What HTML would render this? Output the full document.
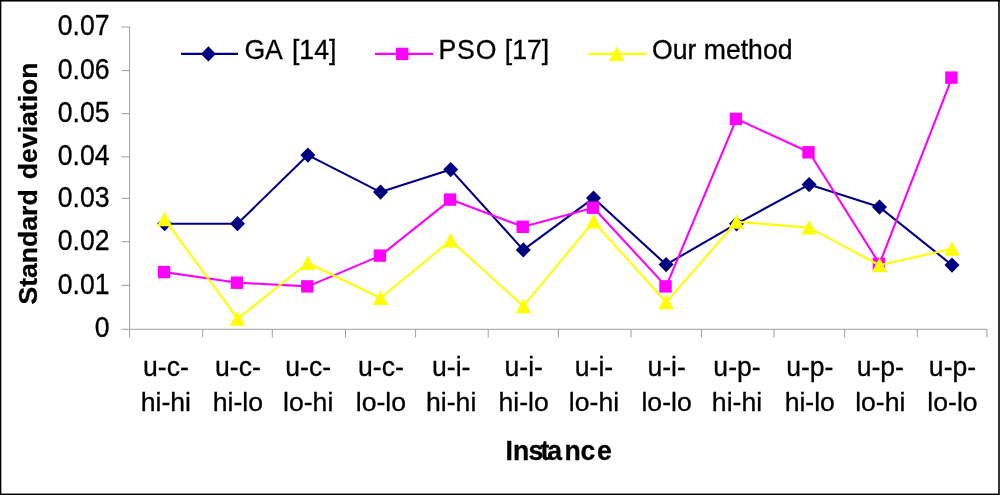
<!DOCTYPE html>
<html><head><meta charset="utf-8"><title>Standard deviation chart</title>
<style>
html,body{margin:0;padding:0;background:#fff;}
body{width:1000px;height:495px;overflow:hidden;}
svg{display:block;}
text{font-family:"Liberation Sans",sans-serif;fill:#000;stroke:#000;stroke-width:0.3px;}
.b{font-weight:bold;}
</style></head><body>
<svg width="1000" height="495" viewBox="0 0 1000 495">
<rect x="0" y="0" width="1000" height="495" fill="#fff"/>

<rect x="998" y="0" width="2" height="495" fill="#333"/>
<rect x="0" y="0" width="1000" height="1.55" fill="#000"/>
<rect x="0" y="0" width="1.35" height="495" fill="#000"/>
<rect x="0" y="493.55" width="998.6" height="1.45" fill="#000"/>
<g stroke="#989898" stroke-width="0.95" fill="none">
<line x1="129.6" y1="27.0" x2="129.6" y2="337.5"/>
<line x1="121.5" y1="329.3" x2="987.0" y2="329.3"/>
<line x1="121.5" y1="27.0" x2="129.6" y2="27.0"/>
<line x1="121.5" y1="70.6" x2="129.6" y2="70.6"/>
<line x1="121.5" y1="113.6" x2="129.6" y2="113.6"/>
<line x1="121.5" y1="156.9" x2="129.6" y2="156.9"/>
<line x1="121.5" y1="198.4" x2="129.6" y2="198.4"/>
<line x1="121.5" y1="241.7" x2="129.6" y2="241.7"/>
<line x1="121.5" y1="285.4" x2="129.6" y2="285.4"/>
<line x1="202.7" y1="329.3" x2="202.7" y2="337.5"/>
<line x1="272.3" y1="329.3" x2="272.3" y2="337.5"/>
<line x1="345.5" y1="329.3" x2="345.5" y2="337.5"/>
<line x1="415.6" y1="329.3" x2="415.6" y2="337.5"/>
<line x1="488.2" y1="329.3" x2="488.2" y2="337.5"/>
<line x1="558.4" y1="329.3" x2="558.4" y2="337.5"/>
<line x1="631.0" y1="329.3" x2="631.0" y2="337.5"/>
<line x1="701.4" y1="329.3" x2="701.4" y2="337.5"/>
<line x1="774.0" y1="329.3" x2="774.0" y2="337.5"/>
<line x1="844.7" y1="329.3" x2="844.7" y2="337.5"/>
<line x1="917.3" y1="329.3" x2="917.3" y2="337.5"/>
<line x1="987.0" y1="329.3" x2="987.0" y2="337.5"/>
</g>
<text x="109.6" y="35.2" font-size="26.6" text-anchor="end" transform="matrix(1 0 0 1.075 0 -2.640)">0.07</text>
<text x="109.6" y="78.8" font-size="26.6" text-anchor="end" transform="matrix(1 0 0 1.075 0 -5.910)">0.06</text>
<text x="109.6" y="121.8" font-size="26.6" text-anchor="end" transform="matrix(1 0 0 1.075 0 -9.135)">0.05</text>
<text x="109.6" y="165.1" font-size="26.6" text-anchor="end" transform="matrix(1 0 0 1.075 0 -12.382)">0.04</text>
<text x="109.6" y="206.6" font-size="26.6" text-anchor="end" transform="matrix(1 0 0 1.075 0 -15.495)">0.03</text>
<text x="109.6" y="249.9" font-size="26.6" text-anchor="end" transform="matrix(1 0 0 1.075 0 -18.742)">0.02</text>
<text x="109.6" y="293.6" font-size="26.6" text-anchor="end" transform="matrix(1 0 0 1.075 0 -22.020)">0.01</text>
<text x="109.6" y="337.2" font-size="26.6" text-anchor="end" transform="matrix(1 0 0 1.075 0 -25.290)">0</text>
<text x="165.9" y="376.2" font-size="26.6" text-anchor="middle" transform="matrix(1 0 0 1.03 0 -11.286)">u-c-</text>
<text x="165.9" y="411.3" font-size="26.6" text-anchor="middle">hi-hi</text>
<text x="237.9" y="376.2" font-size="26.6" text-anchor="middle" transform="matrix(1 0 0 1.03 0 -11.286)">u-c-</text>
<text x="237.9" y="411.3" font-size="26.6" text-anchor="middle">hi-lo</text>
<text x="308.2" y="376.2" font-size="26.6" text-anchor="middle" transform="matrix(1 0 0 1.03 0 -11.286)">u-c-</text>
<text x="308.2" y="411.3" font-size="26.6" text-anchor="middle">lo-hi</text>
<text x="380.9" y="376.2" font-size="26.6" text-anchor="middle" transform="matrix(1 0 0 1.03 0 -11.286)">u-c-</text>
<text x="380.9" y="411.3" font-size="26.6" text-anchor="middle">lo-lo</text>
<text x="451.2" y="376.2" font-size="26.6" text-anchor="middle" transform="matrix(1 0 0 1.03 0 -11.286)">u-i-</text>
<text x="451.2" y="411.3" font-size="26.6" text-anchor="middle">hi-hi</text>
<text x="523.7" y="376.2" font-size="26.6" text-anchor="middle" transform="matrix(1 0 0 1.03 0 -11.286)">u-i-</text>
<text x="523.7" y="411.3" font-size="26.6" text-anchor="middle">hi-lo</text>
<text x="594.0" y="376.2" font-size="26.6" text-anchor="middle" transform="matrix(1 0 0 1.03 0 -11.286)">u-i-</text>
<text x="594.0" y="411.3" font-size="26.6" text-anchor="middle">lo-hi</text>
<text x="666.6" y="376.2" font-size="26.6" text-anchor="middle" transform="matrix(1 0 0 1.03 0 -11.286)">u-i-</text>
<text x="666.6" y="411.3" font-size="26.6" text-anchor="middle">lo-lo</text>
<text x="737.0" y="376.2" font-size="26.6" text-anchor="middle" transform="matrix(1 0 0 1.03 0 -11.286)">u-p-</text>
<text x="737.0" y="411.3" font-size="26.6" text-anchor="middle">hi-hi</text>
<text x="809.8" y="376.2" font-size="26.6" text-anchor="middle" transform="matrix(1 0 0 1.03 0 -11.286)">u-p-</text>
<text x="809.8" y="411.3" font-size="26.6" text-anchor="middle">hi-lo</text>
<text x="880.3" y="376.2" font-size="26.6" text-anchor="middle" transform="matrix(1 0 0 1.03 0 -11.286)">u-p-</text>
<text x="880.3" y="411.3" font-size="26.6" text-anchor="middle">lo-hi</text>
<text x="952.5" y="376.2" font-size="26.6" text-anchor="middle" transform="matrix(1 0 0 1.03 0 -11.286)">u-p-</text>
<text x="952.5" y="411.3" font-size="26.6" text-anchor="middle">lo-lo</text>
<text x="505.6" y="459.6" font-size="26.6" transform="matrix(1 0 0 1.06 0 -27.576)" class="b" dx="0 0 -0.8 -2.7 -2.0 2.3 -0.1 1.5">Instance</text>
<text class="b" transform="translate(36.8,304.6) rotate(-90)" font-size="26.6">Standard <tspan dx="2.8">deviation</tspan></text>
<polyline points="164.6,223.7 237.5,223.7 307.9,155.1 380.5,192.1 450.7,169.6 523.3,249.9 593.5,198.1 666.1,264.6 736.5,223.8 809.1,184.6 879.5,207.1 952.0,265.1" fill="none" stroke="#000080" stroke-width="2.1" stroke-linejoin="round"/>
<polygon points="164.6,216.1 172.1,223.7 164.6,231.3 157.1,223.7" fill="#000080"/>
<polygon points="237.5,216.1 245.0,223.7 237.5,231.3 230.0,223.7" fill="#000080"/>
<polygon points="307.9,147.5 315.4,155.1 307.9,162.7 300.4,155.1" fill="#000080"/>
<polygon points="380.5,184.5 388.0,192.1 380.5,199.7 373.0,192.1" fill="#000080"/>
<polygon points="450.7,162.0 458.2,169.6 450.7,177.2 443.2,169.6" fill="#000080"/>
<polygon points="523.3,242.3 530.8,249.9 523.3,257.5 515.8,249.9" fill="#000080"/>
<polygon points="593.5,190.5 601.0,198.1 593.5,205.7 586.0,198.1" fill="#000080"/>
<polygon points="666.1,257.0 673.6,264.6 666.1,272.2 658.6,264.6" fill="#000080"/>
<polygon points="736.5,216.2 744.0,223.8 736.5,231.4 729.0,223.8" fill="#000080"/>
<polygon points="809.1,177.0 816.6,184.6 809.1,192.2 801.6,184.6" fill="#000080"/>
<polygon points="879.5,199.5 887.0,207.1 879.5,214.7 872.0,207.1" fill="#000080"/>
<polygon points="952.0,257.5 959.5,265.1 952.0,272.7 944.5,265.1" fill="#000080"/>
<polyline points="164.6,272.1 237.5,282.7 307.9,286.4 380.5,255.6 450.7,199.6 523.3,226.8 593.5,207.7 666.1,286.4 736.5,118.9 809.1,152.3 879.5,263.9 952.0,77.6" fill="none" stroke="#ff00ff" stroke-width="2.1" stroke-linejoin="round"/>
<rect x="157.8" y="265.9" width="12.4" height="12.4" fill="#ff00ff"/>
<rect x="230.7" y="276.5" width="12.4" height="12.4" fill="#ff00ff"/>
<rect x="301.1" y="280.2" width="12.4" height="12.4" fill="#ff00ff"/>
<rect x="373.7" y="249.4" width="12.4" height="12.4" fill="#ff00ff"/>
<rect x="443.9" y="193.4" width="12.4" height="12.4" fill="#ff00ff"/>
<rect x="516.5" y="220.6" width="12.4" height="12.4" fill="#ff00ff"/>
<rect x="586.7" y="201.5" width="12.4" height="12.4" fill="#ff00ff"/>
<rect x="659.3" y="280.2" width="12.4" height="12.4" fill="#ff00ff"/>
<rect x="729.7" y="112.7" width="12.4" height="12.4" fill="#ff00ff"/>
<rect x="802.3" y="146.1" width="12.4" height="12.4" fill="#ff00ff"/>
<rect x="872.7" y="257.7" width="12.4" height="12.4" fill="#ff00ff"/>
<rect x="945.2" y="71.4" width="12.4" height="12.4" fill="#ff00ff"/>
<polyline points="164.6,219.3 237.5,318.7 307.9,263.0 380.5,298.0 450.7,240.4 523.3,306.2 593.5,221.6 666.1,302.2 736.5,221.8 809.1,227.6 879.5,265.2 952.0,248.8" fill="none" stroke="#ffff00" stroke-width="2.1" stroke-linejoin="round"/>
<polygon points="164.6,211.7 172.3,226.3 156.9,226.3" fill="#ffff00"/>
<polygon points="237.5,311.1 245.2,325.7 229.8,325.7" fill="#ffff00"/>
<polygon points="307.9,255.4 315.6,270.0 300.2,270.0" fill="#ffff00"/>
<polygon points="380.5,290.4 388.2,305.0 372.8,305.0" fill="#ffff00"/>
<polygon points="450.7,232.8 458.4,247.4 443.0,247.4" fill="#ffff00"/>
<polygon points="523.3,298.6 531.0,313.2 515.6,313.2" fill="#ffff00"/>
<polygon points="593.5,214.0 601.2,228.6 585.8,228.6" fill="#ffff00"/>
<polygon points="666.1,294.6 673.8,309.2 658.4,309.2" fill="#ffff00"/>
<polygon points="736.5,214.2 744.2,228.8 728.8,228.8" fill="#ffff00"/>
<polygon points="809.1,220.0 816.8,234.6 801.4,234.6" fill="#ffff00"/>
<polygon points="879.5,257.6 887.2,272.2 871.8,272.2" fill="#ffff00"/>
<polygon points="952.0,241.2 959.7,255.8 944.3,255.8" fill="#ffff00"/>
<line x1="181" y1="53.9" x2="238" y2="53.9" stroke="#000080" stroke-width="2.1"/>
<polygon points="208.4,46.3 215.9,53.9 208.4,61.5 200.9,53.9" fill="#000080"/>
<text x="244.4" y="59.4" font-size="26.6" transform="matrix(1 0 0 1.06 0 -3.564)">GA <tspan x="292.0">[14]</tspan></text>
<line x1="375" y1="53.9" x2="433" y2="53.9" stroke="#ff00ff" stroke-width="2.1"/>
<rect x="396.0" y="47.7" width="12.4" height="12.4" fill="#ff00ff"/>
<text x="438.6" y="59.4" font-size="26.6" transform="matrix(1 0 0 1.06 0 -3.564)"><tspan letter-spacing="0.8">PSO</tspan> <tspan x="504.8">[17]</tspan></text>
<line x1="588.6" y1="53.9" x2="646.4" y2="53.9" stroke="#ffff00" stroke-width="2.1"/>
<polygon points="616.7,46.4 624.4,61.0 609.0,61.0" fill="#ffff00"/>
<text x="652.1" y="59.4" font-size="26.6" transform="matrix(1 0 0 1.06 0 -3.564)">Our method</text>
</svg></body></html>
